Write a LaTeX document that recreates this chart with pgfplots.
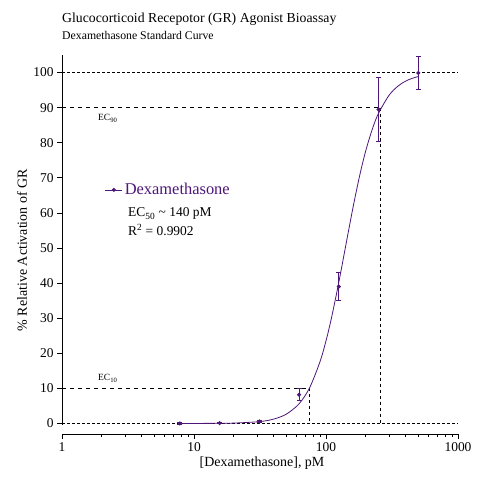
\documentclass[border=0pt]{standalone}
\usepackage{fontspec}
\setmainfont{Liberation Serif}
\usepackage{pgfplots}
\pgfplotsset{compat=1.18}
\definecolor{dex}{RGB}{78,22,120}

\begin{document}
\begin{tikzpicture}[x=1bp,y=1bp]
\path[use as bounding box] (0,0) rectangle (497,481);
\begin{axis}[
  at={(62bp,47bp)}, anchor=south west,
  scale only axis, width=396bp, height=379bp,
  xmode=log, xmin=1, xmax=1000,
  ymin=-3, ymax=105,
  axis x line=bottom, axis y line=left,
  axis line style={-, line width=0.8pt},
  y axis line style={shorten <=9bp},
  xtick={1,10,100,1000}, xticklabels={1,10,100,1000},
  ytick={0,10,...,100},
  tick align=outside, tick style={black, line width=0.7pt},
  major tick length=5bp, minor tick length=3bp,
  ticklabel style={font=\fontsize{13.5}{15}\selectfont},
  /pgf/number format/assume math mode=true,
  xlabel={[Dexamethasone], pM},
  ylabel={\% Relative Activation of GR},
  label style={font=\fontsize{14}{16}\selectfont},
  xlabel style={at={(axis description cs:0.505,-0.077)}, anchor=center},
  ylabel style={at={(axis description cs:-0.101,0.485)}, anchor=center, rotate=0},
  clip=false,
  legend style={draw=none, fill=none, at={(axis description cs:0.108,0.644)}, anchor=west,
    font=\fontsize{16.5}{18}\selectfont\color{dex}, inner sep=0pt},
  legend cell align=left,
]
% guide lines
\addplot[black, line width=0.6pt, dash pattern=on 2.5bp off 2.5bp, forget plot] coordinates {(1,0)(1000,0)};
\addplot[black, line width=0.6pt, dash pattern=on 2.5bp off 2.5bp, forget plot] coordinates {(1,100)(1000,100)};
\addplot[black, line width=0.6pt, dash pattern=on 4bp off 4bp, forget plot] coordinates {(1,90)(258,90)};
\addplot[black, line width=0.6pt, dash pattern=on 3bp off 3bp, forget plot] coordinates {(258,90)(258,0)};
\addplot[black, line width=0.6pt, dash pattern=on 4bp off 4bp, forget plot] coordinates {(1,10)(75,10)};
\addplot[black, line width=0.6pt, dash pattern=on 3bp off 3bp, forget plot] coordinates {(75,10)(75,0)};
% fitted curve
\addplot[dex, line width=0.8pt, smooth, forget plot] coordinates {
  (7.8125,0.004)(10,0.0097)(15.625,0.046)(20,0.11)(31.25,0.52)(40,1.23)
  (50,2.65)(62.5,5.61)(75,10.11)(90,17.57)(100,23.55)(110,30.07)(125,40.21)
  (140,50)(160,61.47)(180,70.67)(200,77.7)(225,84.03)(250,88.39)(300,93.5)
  (350,96.1)(400,97.53)(450,98.35)(500,98.85)};
% measured points
\addplot[dex, only marks, mark=*, mark size=1.6pt, line width=0.8pt, forget plot,
  error bars/.cd, y dir=both, y explicit,
  error bar style={dex, line width=0.8pt},
  error mark options={dex, rotate=90, mark size=2.5pt, line width=0.8pt}] coordinates {
  (7.8125,0) +- (0,0.2)
  (15.625,0.1) +- (0,0.2)
  (31.25,0.6) +- (0,0.4)
  (62.5,8.2) +- (0,1.7)
  (125,39.0) +- (0,4.0)
  (250,89.5) +- (0,9.0)
  (500,99.9) +- (0,4.7)};
\addlegendimage{dex, line width=0.8pt, mark=*, mark size=1.6pt}
\addlegendentry{Dexamethasone}
\end{axis}
\begin{scope}[every node/.style={inner sep=0pt, anchor=base west}]
\node[font=\fontsize{13.8}{16}\selectfont] at (62,458) {Glucocorticoid Recepotor (GR) Agonist Bioassay};
\node[font=\fontsize{11.8}{14}\selectfont] at (62,441) {Dexamethasone Standard Curve};
\node[font=\fontsize{13.5}{15}\selectfont] at (128,264) {EC\textsubscript{50} \textasciitilde{} 140 pM};
\node[font=\fontsize{13.5}{15}\selectfont] at (128,245) {R\textsuperscript{2} = 0.9902};
\node[font=\fontsize{9.5}{11}\selectfont] at (98,360) {EC\textsubscript{90}};
\node[font=\fontsize{9.5}{11}\selectfont] at (98,100) {EC\textsubscript{10}};
\end{scope}
\end{tikzpicture}
\end{document}
